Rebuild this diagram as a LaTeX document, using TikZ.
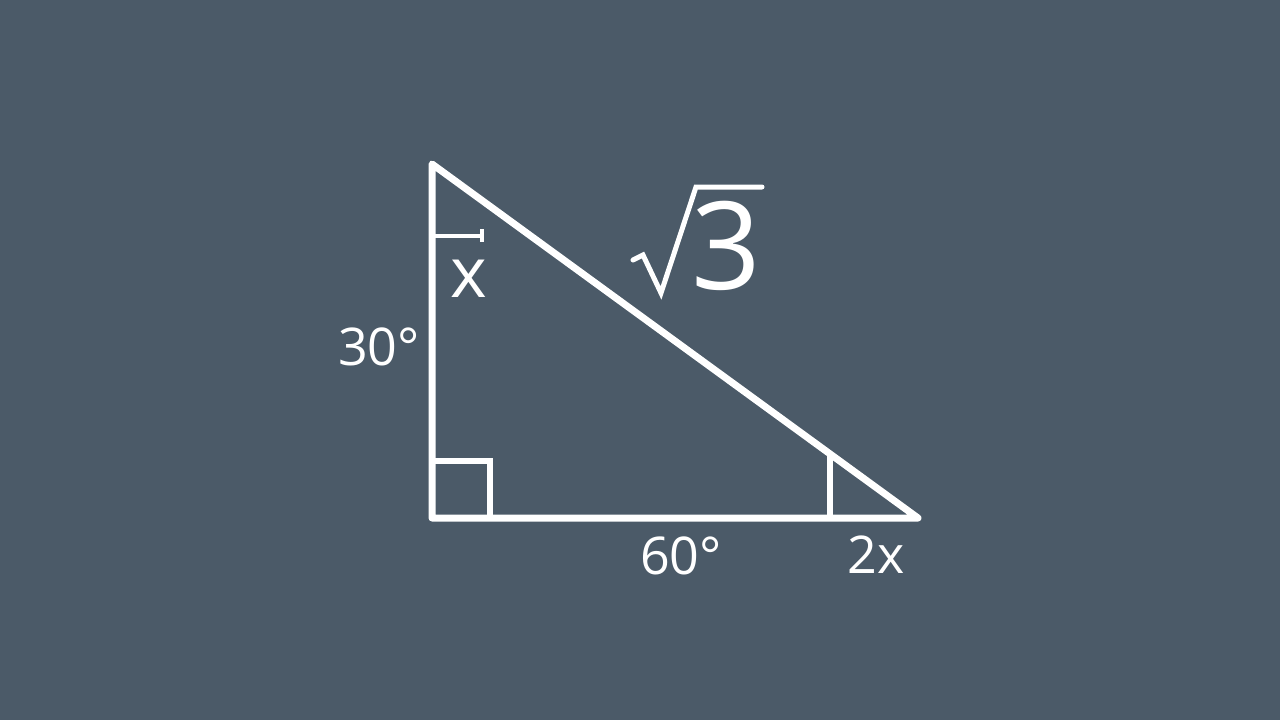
\documentclass[tikz,border=0pt]{standalone}
\usepackage{fontspec}
\setmainfont{Open Sans}
\usetikzlibrary{arrows.meta}
\definecolor{slate}{HTML}{4B5A68}
\newcommand{\lbl}[4]{\node[lbl, font=\fontsize{#3}{#3}\selectfont] (#1) at (#2) {#4};}

\tikzset{
  side/.style={draw=white, line width=7pt, line join=round, line cap=round},
  anglemark/.style={draw=white, line width=5pt},
  lbl/.style={text=white, inner sep=0pt, anchor=center},
}

\begin{document}
\begin{tikzpicture}[x=1pt, y=-1pt]
	\fill[slate] (0,0) rectangle (1280,720);
	\useasboundingbox (0,0) rectangle (1280,720);

	\coordinate (top) at (432,164);
	\coordinate (bl) at (432,518);
	\coordinate (br) at (918,518);

	% triangle
	\draw[side] (top) -- (bl) -- (br) -- cycle;

	% right angle and angle marks
	\draw[anglemark, line width=6pt] (432,461) -- (490,461) -- (490,518);
	\draw[anglemark, line width=6pt] (830,454) -- (830,518);
	\draw[anglemark, line width=4pt, -{Bar[width=13pt, line width=4pt]}] (432,235.5) -- (484,235.5);

	% labels
	\lbl{x}{469,279}{70}{x}
	\lbl{a30}{379,347}{52}{30°}
	\lbl{a60}{681,556}{52}{60°}
	\lbl{s2x}{876,555}{52}{2x}

	% root three
	\draw[anglemark, line cap=round, line join=miter] (633,260) -- (643,255) -- (661,293) -- (696,187) -- (762,187);
	\lbl{three}{726,246}{122}{3}
\end{tikzpicture}
\end{document}
